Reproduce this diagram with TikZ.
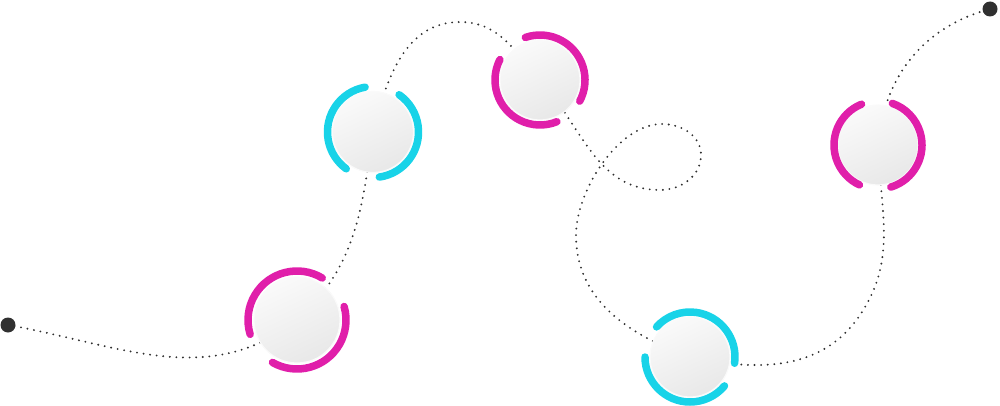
\documentclass[tikz,border=0pt]{standalone}
\definecolor{mag}{HTML}{E01FAA}
\definecolor{cyn}{HTML}{18D3E8}
\definecolor{dotc}{HTML}{303030}
\tikzset{
  trail/.style={draw=dotc, line width=2.1pt, line cap=round, dash pattern=on 0pt off 6.6pt},
  enddot/.style={circle, fill=dotc, inner sep=0pt, minimum size=15pt},
  disk/.style={circle, inner sep=0pt, draw=black!2, line width=1.2pt,
    top color=black!2, bottom color=black!9, shading angle=25},
  ringarc/.style={line width=7.5pt, line cap=round},
}
\begin{document}
\begin{tikzpicture}[x=1pt,y=1pt]
\useasboundingbox (0,0) rectangle (1000,405);
% positions (y measured upward)
\coordinate (S) at (8,80);
\coordinate (c1) at (297,85);
\coordinate (c2) at (373,273);
\coordinate (top) at (460,383);
\coordinate (c3) at (540,325);
\coordinate (l1) at (660,215);
\coordinate (l2) at (701,250);
\coordinate (l3) at (662,281);
\coordinate (l4) at (576,170);
\coordinate (c4) at (690,48);
\coordinate (w1) at (860,90);
\coordinate (c5) at (878,260);
\coordinate (E) at (990,396);
% dotted trail
\path[trail] (S) to[out=-10,in=218] (c1)
  to[out=42,in=262] (c2)
  to[out=76,in=180] (top)
  to[out=0,in=131] (c3)
  to[out=-48,in=180] (l1)
  to[out=0,in=270] (l2)
  to[out=90,in=0] (l3)
  to[out=180,in=90,looseness=0.8] (l4)
  to[out=270,in=160] (c4)
  to[out=-12,in=236] (w1)
  to[out=56,in=272] (c5)
  to[out=85,in=195] (E);
% end dots
\node[enddot] (start) at (S) {};
\node[enddot] (finish) at (E) {};
% circle 1 (magenta)
\node[disk, minimum size=86pt] (n1) at (c1) {};
\draw[ringarc, mag] (c1) ++(59:49) arc[start angle=59, end angle=197, radius=49];
\draw[ringarc, mag] (c1) ++(240:49) arc[start angle=240, end angle=376, radius=49];
% circle 2 (cyan)
\node[disk, minimum size=81pt] (n2) at (c2) {};
\draw[ringarc, cyn] (c2) ++(100:45.5) arc[start angle=100, end angle=234, radius=45.5];
\draw[ringarc, cyn] (c2) ++(278:45.5) arc[start angle=278, end angle=415, radius=45.5];
% circle 3 (magenta)
\node[disk, minimum size=80pt] (n3) at (c3) {};
\draw[ringarc, mag] (c3) ++(-28:45) arc[start angle=-28, end angle=109, radius=45];
\draw[ringarc, mag] (c3) ++(153:45) arc[start angle=153, end angle=292, radius=45];
% circle 4 (cyan)
\node[disk, minimum size=80pt] (n4) at (c4) {};
\draw[ringarc, cyn] (c4) ++(-8:45) arc[start angle=-8, end angle=138, radius=45];
\draw[ringarc, cyn] (c4) ++(180:45) arc[start angle=180, end angle=320, radius=45];
% circle 5 (magenta)
\node[disk, minimum size=80pt] (n5) at (c5) {};
\draw[ringarc, mag] (c5) ++(112:44) arc[start angle=112, end angle=245, radius=44];
\draw[ringarc, mag] (c5) ++(287:44) arc[start angle=287, end angle=431, radius=44];
\end{tikzpicture}
\end{document}
